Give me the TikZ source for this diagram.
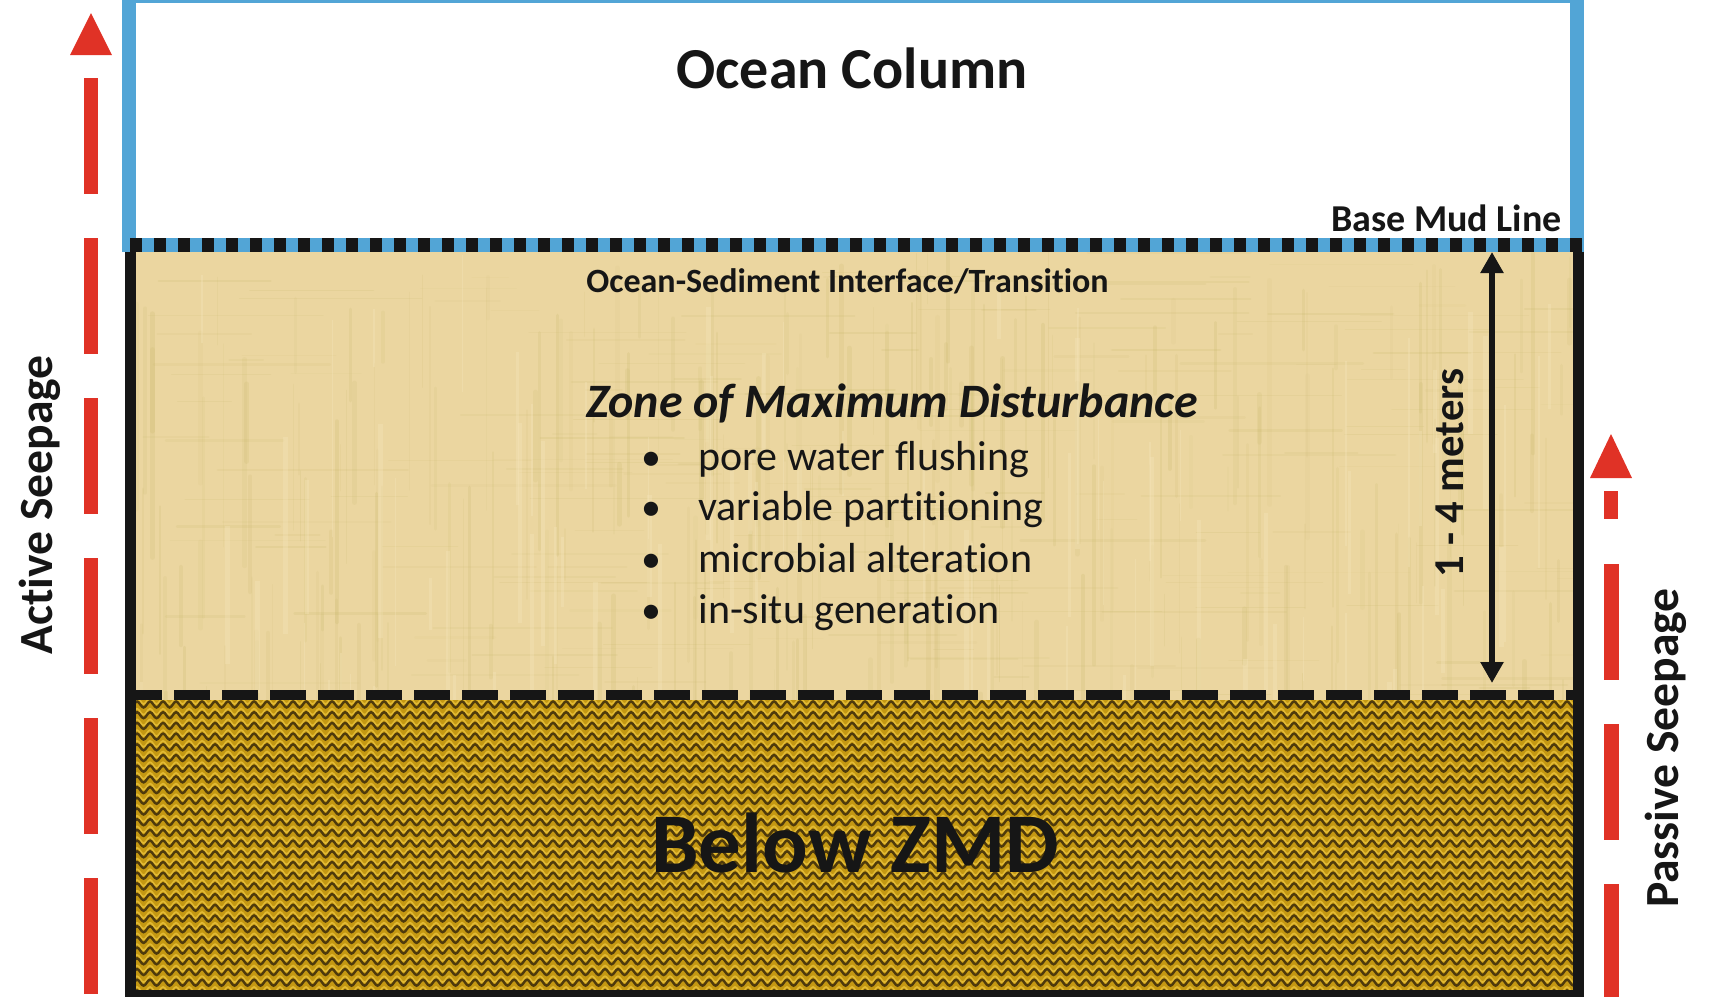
\documentclass[tikz,border=0pt]{standalone}
\usepackage{fontspec}
\setmainfont{Carlito}[Ligatures={NoCommon}]
\usetikzlibrary{arrows.meta,decorations.pathmorphing}
\definecolor{seepred}{RGB}{224,50,38}
\definecolor{oceanblue}{RGB}{82,165,214}
\definecolor{tanbase}{RGB}{235,214,160}
\definecolor{tanstreak}{RGB}{196,180,100}
\definecolor{tanlight}{RGB}{248,232,190}
\definecolor{goldbase}{RGB}{196,152,18}
\definecolor{goldwave}{RGB}{78,58,12}
\definecolor{goldhi}{RGB}{226,186,52}
\definecolor{ink}{RGB}{22,22,22}
\tikzset{
  lbl/.style={inner sep=0pt, text=ink, anchor=base},
  sidelbl/.style={lbl, rotate=90, font=\bfseries\fontsize{23.8pt}{26pt}\selectfont},
  bulletlbl/.style={lbl, anchor=base west, font=\fontsize{21pt}{24pt}\selectfont},
  redseg/.style={fill=seepred, draw=none},
}
\begin{document}
\begin{tikzpicture}[x=0.5pt,y=-0.5pt]
\useasboundingbox (0,0) rectangle (1710,997);
% --- sediment (ZMD) layer ---
\fill[tanbase] (136,245) rectangle (1573,700);
\begin{scope}
  \clip (136,245) rectangle (1573,700);
  \pgfmathsetseed{7}
  \foreach \i in {1,...,260}{
    \pgfmathsetmacro\xx{136+rnd*1437}
    \pgfmathsetmacro\yy{245+rnd*455}
    \pgfmathsetmacro\ll{40+rnd*200}
    \pgfmathsetmacro\ww{0.4+rnd*2.2}
    \pgfmathsetmacro\oo{0.05+rnd*0.14}
    \draw[tanstreak, line width=\ww pt, opacity=\oo, line cap=round] (\xx,\yy) -- (\xx,\yy+\ll);
  }
  \foreach \i in {1,...,200}{
    \pgfmathsetmacro\xx{136+rnd*1437}
    \pgfmathsetmacro\yy{245+rnd*455}
    \pgfmathsetmacro\ll{30+rnd*160}
    \pgfmathsetmacro\ww{0.3+rnd*1.0}
    \pgfmathsetmacro\oo{0.05+rnd*0.12}
    \draw[tanstreak, line width=\ww pt, opacity=\oo, line cap=round] (\xx,\yy) -- (\xx+\ll,\yy);
  }
  \foreach \i in {1,...,80}{
    \pgfmathsetmacro\xx{136+rnd*1437}
    \pgfmathsetmacro\yy{245+rnd*455}
    \pgfmathsetmacro\ll{40+rnd*200}
    \pgfmathsetmacro\ww{0.5+rnd*2}
    \draw[tanlight, line width=\ww pt, opacity=0.3] (\xx,\yy) -- (\xx,\yy+\ll);
  }
\end{scope}
% --- below ZMD layer ---
\fill[goldbase] (136,700) rectangle (1573,990);
\begin{scope}
  \clip (136,700) rectangle (1573,990);
  \foreach \r in {0,...,28}{
    \draw[goldhi, line width=0.8pt, decorate, decoration={snake, segment length=6.5pt, amplitude=1.5pt}]
      (120,{701+\r*10.7}) -- (1600,{701+\r*10.7});
    \draw[goldwave, line width=1.2pt, decorate, decoration={snake, segment length=6.5pt, amplitude=1.5pt}]
      (120,{704.5+\r*10.7}) -- (1600,{704.5+\r*10.7});
  }
\end{scope}
% --- boundaries ---
\draw[ink, line width=5pt, dash pattern=on 18pt off 6pt] (126,695) -- (1584,695);
\draw[ink, line width=5.5pt] (130.5,245) rectangle (1578.5,995);
\draw[oceanblue, line width=7pt] (129,-4) rectangle (1576.5,245);
\draw[ink, line width=7pt, dash pattern=on 6pt off 6pt] (130,245) -- (1584,245);
% --- thickness arrow ---
\coordinate (dimtop) at (1492,252);
\coordinate (dimbot) at (1492,683);
\draw[ink, line width=3pt, {Triangle[width=11pt,length=10.5pt]}-{Triangle[width=11pt,length=10.5pt]}] (dimtop) -- (dimbot);
% --- seepage arrows ---
\fill[redseg] (91,13) -- (112,55) -- (70,55) -- cycle;
\foreach \s in {78,238,...,878}{\fill[redseg] (84,\s) rectangle (98,\s+116);}
\fill[redseg] (1611,434) -- (1632,478) -- (1590,478) -- cycle;
\fill[redseg] (1604,491) rectangle (1618,519);
\foreach \s in {564,724,884}{\fill[redseg] (1604,\s) rectangle (1619,\s+116);}
% --- labels ---
\node[lbl, font=\bfseries\fontsize{29pt}{32pt}\selectfont] (ocean) at (852,88) {Ocean Column};
\node[lbl, anchor=base east, font=\bfseries\fontsize{19pt}{22pt}\selectfont] (mudline) at (1562,231) {Base Mud Line};
\node[lbl, anchor=base west, font=\bfseries\fontsize{17pt}{20pt}\selectfont] (interface) at (586,292) {Ocean-Sediment Interface/Transition};
\node[lbl, anchor=base west, font=\bfseries\itshape\fontsize{24pt}{27pt}\selectfont] (zmd) at (586,417) {Zone of Maximum Disturbance};
\node[bulletlbl] (b1) at (698,470) {pore water flushing};
\node[bulletlbl] (b2) at (698,520) {variable partitioning};
\node[bulletlbl] (b3) at (698,572) {microbial alteration};
\node[bulletlbl] (b4) at (698,623) {in-situ generation};
\foreach \n in {b1,b2,b3,b4}{\node[lbl, anchor=base, font=\fontsize{20pt}{24pt}\selectfont] at ([xshift=-23.5pt]\n.base west) {•};}
\node[lbl, font=\bfseries\fontsize{42.5pt}{46pt}\selectfont] (below) at (855,872) {Below ZMD};
\node[lbl, rotate=90, font=\bfseries\fontsize{21.3pt}{24pt}\selectfont] (meters) at (1463,473) {1 - 4 meters};
\node[sidelbl] (active) at (53,505) {Active Seepage};
\node[sidelbl] (passive) at (1678,748) {Passive Seepage};
\end{tikzpicture}
\end{document}
